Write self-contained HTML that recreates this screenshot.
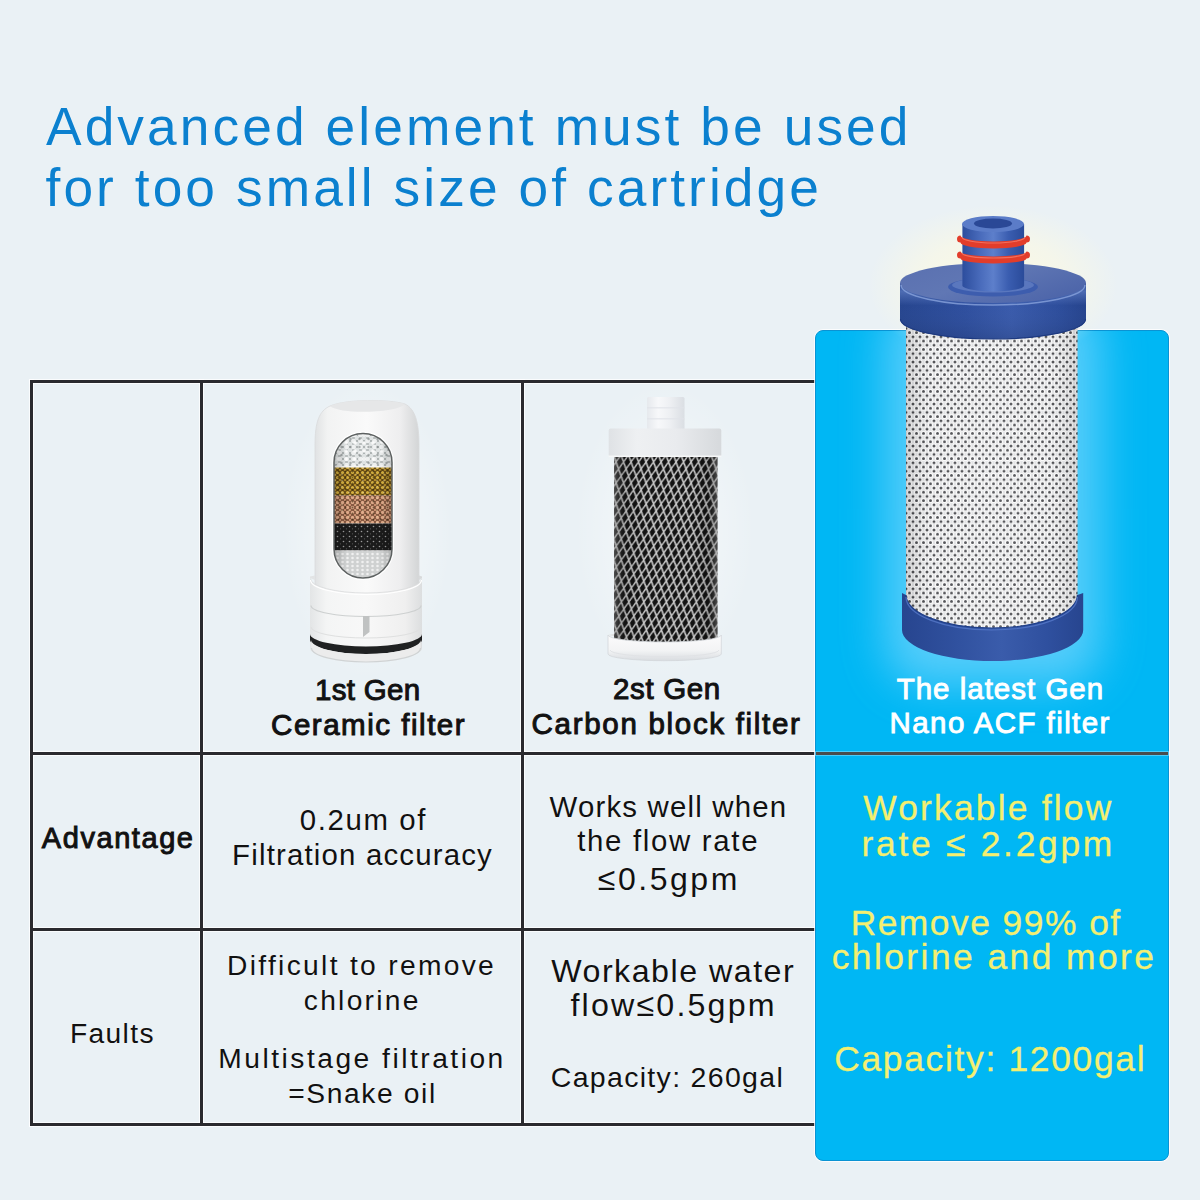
<!DOCTYPE html>
<html><head><meta charset="utf-8"><style>
html,body{margin:0;padding:0;}
body{width:1200px;height:1200px;position:relative;overflow:hidden;background:#eaf1f5;font-family:"Liberation Sans",sans-serif;}
.tx{position:absolute;white-space:pre;}
.hb{text-shadow:0 0 1px rgba(255,255,255,0.9);}
.ln{position:absolute;background:#2a2a2e;}
.lh{position:absolute;background:rgba(255,255,255,0.75);}
.abs{position:absolute;left:0;top:0;}
</style></head><body>
<div class="lh" style="left:29px;top:379px;width:787px;height:5px"></div>
<div class="lh" style="left:29px;top:751px;width:1140px;height:5px"></div>
<div class="lh" style="left:29px;top:927px;width:787px;height:5px"></div>
<div class="lh" style="left:29px;top:1122px;width:787px;height:5px"></div>
<div class="lh" style="left:29px;top:379px;width:5px;height:748px"></div>
<div class="lh" style="left:199px;top:379px;width:5px;height:748px"></div>
<div class="lh" style="left:520px;top:379px;width:5px;height:748px"></div>
<div class="ln" style="left:30px;top:380px;width:785px;height:3px"></div>
<div class="ln" style="left:30px;top:752px;width:1138px;height:3px"></div>
<div class="ln" style="left:30px;top:928px;width:785px;height:3px"></div>
<div class="ln" style="left:30px;top:1123px;width:785px;height:3px"></div>
<div class="ln" style="left:30px;top:380px;width:3px;height:746px"></div>
<div class="ln" style="left:200px;top:380px;width:3px;height:746px"></div>
<div class="ln" style="left:521px;top:380px;width:3px;height:746px"></div>
<div id="panel" style="position:absolute;left:815px;top:330px;width:354px;height:831px;border-radius:8px;background:#00b7f4;box-sizing:border-box;border:1px solid #0a93d3;overflow:hidden;box-shadow:0 0 0 1px rgba(255,255,255,0.8)">
</div>
<div class="ln" style="left:816px;top:752px;width:352px;height:3px;background:#4a4d4c;box-shadow:0 0 0 1px rgba(120,220,255,0.6)"></div>
<svg class="abs" width="1200" height="1200" viewBox="0 0 1200 1200">
<defs>
 <linearGradient id="g1body" x1="0" x2="1" y1="0" y2="0">
  <stop offset="0" stop-color="#e0e2e3"/>
  <stop offset="0.12" stop-color="#f2f3f3"/>
  <stop offset="0.5" stop-color="#fafafa"/>
  <stop offset="0.82" stop-color="#eeeeef"/>
  <stop offset="1" stop-color="#d3d5d6"/>
 </linearGradient>
 <linearGradient id="g1base" x1="0" x2="1" y1="0" y2="0">
  <stop offset="0" stop-color="#e3e5e6"/>
  <stop offset="0.15" stop-color="#f4f5f5"/>
  <stop offset="0.5" stop-color="#f8f8f8"/>
  <stop offset="0.85" stop-color="#efefef"/>
  <stop offset="1" stop-color="#dcdedf"/>
 </linearGradient>
 <radialGradient id="g1glow" cx="0.5" cy="0.5" r="0.5">
  <stop offset="0" stop-color="#ffffff" stop-opacity="0.7"/>
  <stop offset="1" stop-color="#ffffff" stop-opacity="0"/>
 </radialGradient>
 <pattern id="p1balls" width="7" height="6" patternUnits="userSpaceOnUse">
  <rect width="7" height="6" fill="#8f9696"/>
  <circle cx="3.5" cy="3" r="2.5" fill="#eef0f0"/>
  <circle cx="0" cy="0" r="2.5" fill="#dfe3e3"/>
  <circle cx="7" cy="0" r="2.5" fill="#dfe3e3"/>
  <circle cx="0" cy="6" r="2.5" fill="#dfe3e3"/>
  <circle cx="7" cy="6" r="2.5" fill="#dfe3e3"/>
 </pattern>
 <pattern id="p1balls2" width="9" height="8" patternUnits="userSpaceOnUse" x="2" y="1">
  <circle cx="2" cy="2" r="1.8" fill="#ffffff" opacity="0.8"/>
  <circle cx="6.5" cy="6" r="1.2" fill="#7d8484" opacity="0.6"/>
 </pattern>
 <pattern id="p1gold" width="5" height="5" patternUnits="userSpaceOnUse">
  <rect width="5" height="5" fill="#5e4512"/>
  <circle cx="2.5" cy="2.5" r="1.6" fill="#d6b040"/>
  <circle cx="0" cy="0" r="1.3" fill="#b48b28"/>
  <circle cx="5" cy="5" r="1.3" fill="#b48b28"/>
  <circle cx="5" cy="0" r="1.3" fill="#b48b28"/>
  <circle cx="0" cy="5" r="1.3" fill="#b48b28"/>
 </pattern>
 <pattern id="p1speck" width="7" height="6" patternUnits="userSpaceOnUse" x="1" y="2">
  <circle cx="1.5" cy="1.5" r="1" fill="#2a1e08" opacity="0.55"/>
  <circle cx="5" cy="4.5" r="0.9" fill="#fff3c0" opacity="0.35"/>
 </pattern>
 <pattern id="p1copper" width="5" height="5" patternUnits="userSpaceOnUse">
  <rect width="5" height="5" fill="#7a4f38"/>
  <circle cx="2.5" cy="2.5" r="1.7" fill="#e0aa8a"/>
  <circle cx="0" cy="0" r="1.3" fill="#c98f70"/>
  <circle cx="5" cy="5" r="1.3" fill="#c98f70"/>
  <circle cx="5" cy="0" r="1.3" fill="#c98f70"/>
  <circle cx="0" cy="5" r="1.3" fill="#c98f70"/>
 </pattern>
 <pattern id="p1black" width="6" height="5" patternUnits="userSpaceOnUse">
  <rect width="6" height="5" fill="#1b1b1b"/>
  <circle cx="1.5" cy="1.5" r="0.8" fill="#9a9a9a"/>
  <circle cx="4.5" cy="3.8" r="0.6" fill="#5a5a5a"/>
 </pattern>
 <pattern id="p1clear" width="5" height="4" patternUnits="userSpaceOnUse">
  <rect width="5" height="4" fill="#cfd1d1"/>
  <circle cx="2.5" cy="2" r="1.3" fill="#f0f0f0"/>
 </pattern>
 <linearGradient id="g1winshade" x1="0" x2="1" y1="0" y2="0">
  <stop offset="0" stop-color="#000" stop-opacity="0.25"/>
  <stop offset="0.25" stop-color="#000" stop-opacity="0"/>
  <stop offset="0.75" stop-color="#000" stop-opacity="0"/>
  <stop offset="1" stop-color="#000" stop-opacity="0.2"/>
 </linearGradient>
 <clipPath id="c1win"><rect x="334" y="433.5" width="58" height="144.5" rx="29" ry="29"/></clipPath>
</defs>
<ellipse cx="367" cy="530" rx="85" ry="150" fill="url(#g1glow)"/>
<!-- body -->
<path d="M315 600 V445 C315 422 319 411 330 406 C346 399 389 399 405 404 C415 409 419 422 419 445 V600 Z" fill="url(#g1body)" stroke="#d9dbdc" stroke-width="0.8"/>
<path d="M330 406 C346 399 389 399 405 404 C398 413 340 415 330 406 Z" fill="#e6e7e8"/>
<!-- window -->
<rect x="332" y="431.5" width="62" height="148.5" rx="31" ry="31" fill="#ffffff"/>
<g clip-path="url(#c1win)">
 <rect x="330" y="430" width="66" height="38" fill="url(#p1balls)"/>
 <rect x="330" y="430" width="66" height="38" fill="url(#p1balls2)"/>
 <rect x="330" y="467" width="66" height="28.5" fill="url(#p1gold)"/>
 <rect x="330" y="467" width="66" height="28.5" fill="url(#p1speck)"/>
 <rect x="330" y="495.5" width="66" height="28" fill="url(#p1copper)"/>
 <rect x="330" y="495.5" width="66" height="28" fill="url(#p1speck)"/>
 <rect x="330" y="523.5" width="66" height="27" fill="url(#p1black)"/>
 <rect x="330" y="550.5" width="66" height="30" fill="url(#p1clear)"/>
 <rect x="330" y="466" width="66" height="1.5" fill="#f4f4f4"/>
 <rect x="330" y="430" width="66" height="150" fill="url(#g1winshade)"/>
</g>
<rect x="334" y="433.5" width="58" height="144.5" rx="29" ry="29" fill="none" stroke="#5d6161" stroke-width="1.5"/>
<!-- base -->
<path d="M310 578 A56 15 0 0 0 422 578 L422 648 A56 14 0 0 1 310 648 Z" fill="url(#g1base)"/>
<path d="M310.5 578.5 A55.5 14.5 0 0 0 421.5 578.5" fill="none" stroke="#d9dbdc" stroke-width="0.8"/>
<path d="M310.5 580 A55.5 14.5 0 0 0 421.5 580" fill="none" stroke="#ffffff" stroke-width="1.2"/>
<path d="M310 578 L310 576.5 L315 575.5 L315 580" fill="#e2e4e5"/>
<path d="M422 578 L422 576.5 L419 575.5 L419 580" fill="#d8dadb"/>
<path d="M311 605.5 A55 11 0 0 0 421 605.5" fill="none" stroke="#cdd0d0" stroke-width="1.2"/>
<path d="M311 627 A55 11 0 0 0 421 627" fill="none" stroke="#dfe0e0" stroke-width="1"/>
<path d="M363 616 L369.5 616 L369.5 632 L363 637 Z" fill="#c0c2c2"/>
<path d="M310 634 A56 12.5 0 0 0 422 634 L422 639.5 A56 14.5 0 0 1 310 639.5 Z" fill="#202122"/>
<path d="M311 639.5 A55 14.5 0 0 0 421 639.5 L420.5 648 A54.5 14 0 0 1 311.5 648 Z" fill="#ececec"/>
<path d="M311.5 648 A54.5 14 0 0 0 420.5 648" fill="none" stroke="#d0d3d4" stroke-width="1.2"/>
</svg>

<svg class="abs" width="1200" height="1200" viewBox="0 0 1200 1200">
<defs>
 <linearGradient id="g2cap" x1="0" x2="1" y1="0" y2="0">
  <stop offset="0" stop-color="#dfe2e5"/>
  <stop offset="0.25" stop-color="#eef0f2"/>
  <stop offset="0.6" stop-color="#e9ebee"/>
  <stop offset="1" stop-color="#d6d9dc"/>
 </linearGradient>
 <linearGradient id="g2shade" x1="0" x2="1" y1="0" y2="0">
  <stop offset="0" stop-color="#999" stop-opacity="0.45"/>
  <stop offset="0.12" stop-color="#000" stop-opacity="0.1"/>
  <stop offset="0.3" stop-color="#000" stop-opacity="0"/>
  <stop offset="0.75" stop-color="#000" stop-opacity="0"/>
  <stop offset="0.9" stop-color="#000" stop-opacity="0.15"/>
  <stop offset="1" stop-color="#999" stop-opacity="0.45"/>
 </linearGradient>
 <radialGradient id="g2glow" cx="0.5" cy="0.5" r="0.5">
  <stop offset="0" stop-color="#ffffff" stop-opacity="0.6"/>
  <stop offset="1" stop-color="#ffffff" stop-opacity="0"/>
 </radialGradient>
 <pattern id="p2mesh" width="7.5" height="14" patternUnits="userSpaceOnUse" patternTransform="skewX(-10)">
  <rect width="7.5" height="14" fill="#131313"/>
  <path d="M0 0 L7.5 14 M7.5 0 L0 14" stroke="#c8c8c8" stroke-width="1.6" fill="none"/>
 </pattern>
</defs>
<ellipse cx="665" cy="530" rx="90" ry="150" fill="url(#g2glow)"/>
<linearGradient id="g2noz" x1="0" x2="1" y1="0" y2="0"><stop offset="0" stop-color="#e6e9ed"/><stop offset="0.3" stop-color="#f7f8fa"/><stop offset="0.6" stop-color="#eef0f3"/><stop offset="1" stop-color="#dadee3"/></linearGradient>
<rect x="647" y="397" width="37.5" height="33" rx="1.5" fill="url(#g2noz)"/>
<rect x="647" y="407" width="37.5" height="1.5" fill="#dfe3e8" opacity="0.7"/>
<rect x="647" y="418" width="37.5" height="1.5" fill="#dfe3e8" opacity="0.7"/>
<rect x="614" y="455" width="103.5" height="187" fill="url(#p2mesh)"/>
<rect x="614" y="455" width="103.5" height="187" fill="url(#g2shade)"/>
<rect x="608.7" y="428.5" width="112.6" height="28.5" rx="2" fill="url(#g2cap)"/>
<rect x="608.7" y="455.5" width="112.6" height="1.5" fill="#f6f7f8"/>
<linearGradient id="g2bot" x1="0" x2="0" y1="0" y2="1"><stop offset="0" stop-color="#fbfbfc"/><stop offset="0.6" stop-color="#f3f4f5"/><stop offset="1" stop-color="#d9dce0"/></linearGradient>
<path d="M608 635 A56.6 7 0 0 0 721.3 635 L721.3 654 A56.6 6.7 0 0 1 608 654 Z" fill="url(#g2bot)" stroke="#d3d7db" stroke-width="0.8"/>
<path d="M608 635 L614 634 L614 636 Z" fill="#ddd"/>
<path d="M610 650 A54 6.7 0 0 0 719 650" fill="none" stroke="#e1e3e6" stroke-width="1"/>
</svg>

<svg class="abs" width="1200" height="1200" viewBox="0 0 1200 1200">
<defs>
 <linearGradient id="g3side" x1="0" x2="1" y1="0" y2="0">
  <stop offset="0" stop-color="#27458f"/>
  <stop offset="0.3" stop-color="#30519f"/>
  <stop offset="0.55" stop-color="#3a5cab"/>
  <stop offset="0.8" stop-color="#2f509f"/>
  <stop offset="1" stop-color="#27458f"/>
 </linearGradient>
 <linearGradient id="g3cap" x1="0" x2="1" y1="0" y2="0">
  <stop offset="0" stop-color="#27468f"/>
  <stop offset="0.35" stop-color="#2f4f9e"/>
  <stop offset="0.6" stop-color="#3a5bab"/>
  <stop offset="0.85" stop-color="#2e4e9c"/>
  <stop offset="1" stop-color="#26448d"/>
 </linearGradient>
 <linearGradient id="g3capv" x1="0" x2="0" y1="0" y2="1">
  <stop offset="0" stop-color="#6d8bd0" stop-opacity="0.0"/>
  <stop offset="0.15" stop-color="#6d8bd0" stop-opacity="0.55"/>
  <stop offset="0.4" stop-color="#6d8bd0" stop-opacity="0.0"/>
  <stop offset="1" stop-color="#000" stop-opacity="0.1"/>
 </linearGradient>
 <linearGradient id="g3top" x1="0" x2="1" y1="0" y2="0.6">
  <stop offset="0" stop-color="#5a70b0"/>
  <stop offset="0.5" stop-color="#6077b4"/>
  <stop offset="1" stop-color="#4e66aa"/>
 </linearGradient>
 <linearGradient id="g3noz" x1="0" x2="1" y1="0" y2="0">
  <stop offset="0" stop-color="#2c4d9d"/>
  <stop offset="0.3" stop-color="#4a6cbc"/>
  <stop offset="0.5" stop-color="#5d7fcb"/>
  <stop offset="0.75" stop-color="#3a5db0"/>
  <stop offset="1" stop-color="#2a4b9a"/>
 </linearGradient>
 <linearGradient id="g3shade" x1="0" x2="1" y1="0" y2="0">
  <stop offset="0" stop-color="#000" stop-opacity="0.12"/>
  <stop offset="0.15" stop-color="#fff" stop-opacity="0.05"/>
  <stop offset="0.5" stop-color="#fff" stop-opacity="0.12"/>
  <stop offset="0.85" stop-color="#fff" stop-opacity="0.05"/>
  <stop offset="1" stop-color="#000" stop-opacity="0.1"/>
 </linearGradient>
 <radialGradient id="g3glowtop" cx="0.5" cy="0.5" r="0.5">
  <stop offset="0" stop-color="#fffbe0" stop-opacity="0.9"/>
  <stop offset="0.6" stop-color="#fffbe0" stop-opacity="0.5"/>
  <stop offset="1" stop-color="#fffbe0" stop-opacity="0"/>
 </radialGradient>
 <filter id="blur3" x="-50%" y="-50%" width="200%" height="200%"><feGaussianBlur stdDeviation="22"/></filter>
 <filter id="blur3b" x="-50%" y="-50%" width="200%" height="200%"><feGaussianBlur stdDeviation="10"/></filter>
 <pattern id="p3dots" width="7" height="8.4" patternUnits="userSpaceOnUse" x="906" y="320">
  <rect width="7" height="8.4" fill="#dfe0e2"/>
  <circle cx="0" cy="0" r="2.6" fill="#fbfbfb"/>
  <circle cx="7" cy="0" r="2.6" fill="#fbfbfb"/>
  <circle cx="3.5" cy="4.2" r="2.6" fill="#fbfbfb"/>
  <circle cx="0" cy="8.4" r="2.6" fill="#fbfbfb"/>
  <circle cx="7" cy="8.4" r="2.6" fill="#fbfbfb"/>
  <circle cx="0" cy="0" r="1.5" fill="#48494d"/>
  <circle cx="7" cy="0" r="1.5" fill="#48494d"/>
  <circle cx="3.5" cy="4.2" r="1.5" fill="#48494d"/>
  <circle cx="0" cy="8.4" r="1.5" fill="#48494d"/>
  <circle cx="7" cy="8.4" r="1.5" fill="#48494d"/>
 </pattern>
 <clipPath id="c3panel"><rect x="816" y="331" width="352" height="829" rx="8"/></clipPath>
</defs>
<ellipse cx="993" cy="285" rx="125" ry="80" fill="url(#g3glowtop)"/>
<g clip-path="url(#c3panel)">
 <rect x="885" y="300" width="216" height="385" rx="40" fill="#8fdcff" opacity="0.6" filter="url(#blur3)"/>
</g>
<rect x="906" y="320" width="171.5" height="310" fill="url(#p3dots)"/>
<rect x="906" y="320" width="171.5" height="310" fill="url(#g3shade)"/>
<path d="M902 593 L902 630 A90.6 31 0 0 0 1083.2 630 L1083.2 593 L1077.4 595 A85.7 33 0 0 1 906 595 Z" fill="url(#g3side)"/>
<path d="M1077.4 595 A85.7 33 0 0 1 906 595" fill="none" stroke="#1f3f8a" stroke-width="1.2"/>
<path d="M1077.4 597 A85.7 33 0 0 1 906 597" fill="none" stroke="#5b7fd0" stroke-width="1.2" opacity="0.7"/>
<path d="M900 283 L900 319 A93 20 0 0 0 1086 319 L1086 283 Z" fill="url(#g3cap)"/>
<path d="M900 283 L900 319 A93 20 0 0 0 1086 319 L1086 283 Z" fill="url(#g3capv)"/>
<path d="M900.5 319 A92.5 20 0 0 0 1085.5 319" fill="none" stroke="#1e3a80" stroke-width="1.2"/>

<ellipse cx="993" cy="283" rx="93" ry="20" fill="url(#g3top)"/>
<path d="M901 285 A92 20 0 0 0 1085 285" fill="none" stroke="#88a2dc" stroke-width="1.5" opacity="0.8"/>
<ellipse cx="993" cy="287" rx="45" ry="9.5" fill="#3d5dae"/>
<ellipse cx="993" cy="285" rx="41" ry="7.5" fill="#5a77be"/>
<path d="M962.4 224 L962.4 286 A31 6 0 0 0 1024.1 286 L1024.1 224 Z" fill="url(#g3noz)"/>
<ellipse cx="993" cy="224" rx="31" ry="8" fill="#5b7cc8"/>
<ellipse cx="993" cy="223.5" rx="19" ry="5" fill="#2a4896"/>
<path d="M960.5 235.5 A33 6 0 0 0 1026.5 235.5 A3.5 3.5 0 0 1 1026.5 242.5 A33 6 0 0 1 960.5 242.5 A3.5 3.5 0 0 1 960.5 235.5 Z" fill="#e23d2b"/>
<path d="M962 237.0 A31.5 6 0 0 0 1025 237.0" fill="none" stroke="#f77b68" stroke-width="1.2" opacity="0.8"/>
<path d="M960.5 251.5 A33 5 0 0 0 1026.5 251.5 A3.5 3.5 0 0 1 1026.5 258.5 A33 5 0 0 1 960.5 258.5 A3.5 3.5 0 0 1 960.5 251.5 Z" fill="#e23d2b"/>
<path d="M962 253.0 A31.5 5 0 0 0 1025 253.0" fill="none" stroke="#f77b68" stroke-width="1.2" opacity="0.8"/>
</svg>

<div class="tx hb" style="left:46.0px;top:99.7px;font-size:53.3px;line-height:53.3px;letter-spacing:3.08px;font-weight:400;color:#0b80cf">Advanced element must be used</div>
<div class="tx hb" style="left:45.5px;top:161.4px;font-size:53.3px;line-height:53.3px;letter-spacing:3.07px;font-weight:400;color:#0b80cf">for too small size of cartridge</div>
<div class="tx hb" style="left:315.0px;top:675.2px;font-size:29.5px;line-height:29.5px;letter-spacing:0.30px;font-weight:400;color:#111111;-webkit-text-stroke:1.00px #111111">1st Gen</div>
<div class="tx hb" style="left:271.1px;top:709.9px;font-size:29.5px;line-height:29.5px;letter-spacing:1.52px;font-weight:400;color:#111111;-webkit-text-stroke:1.00px #111111">Ceramic filter</div>
<div class="tx hb" style="left:612.9px;top:673.7px;font-size:29.5px;line-height:29.5px;letter-spacing:0.68px;font-weight:400;color:#111111;-webkit-text-stroke:1.00px #111111">2st Gen</div>
<div class="tx hb" style="left:531.6px;top:708.7px;font-size:29.5px;line-height:29.5px;letter-spacing:1.70px;font-weight:400;color:#111111;-webkit-text-stroke:1.00px #111111">Carbon block filter</div>
<div class="tx" style="left:896.7px;top:673.5px;font-size:29.5px;line-height:29.5px;letter-spacing:1.00px;font-weight:400;color:#ffffff;-webkit-text-stroke:0.89px #ffffff">The latest Gen</div>
<div class="tx" style="left:889.6px;top:708.2px;font-size:29.5px;line-height:29.5px;letter-spacing:1.41px;font-weight:400;color:#ffffff;-webkit-text-stroke:0.89px #ffffff">Nano ACF filter</div>
<div class="tx hb" style="left:41.8px;top:823.6px;font-size:29px;line-height:29px;letter-spacing:1.56px;font-weight:400;color:#111111;-webkit-text-stroke:0.99px #111111">Advantage</div>
<div class="tx hb" style="left:299.8px;top:805.0px;font-size:29.4px;line-height:29.4px;letter-spacing:1.60px;font-weight:400;color:#111111">0.2um of</div>
<div class="tx hb" style="left:232.1px;top:840.0px;font-size:29.4px;line-height:29.4px;letter-spacing:1.18px;font-weight:400;color:#111111">Filtration accuracy</div>
<div class="tx hb" style="left:549.5px;top:791.9px;font-size:29.4px;line-height:29.4px;letter-spacing:1.19px;font-weight:400;color:#111111">Works well when</div>
<div class="tx hb" style="left:577.2px;top:826.2px;font-size:29.4px;line-height:29.4px;letter-spacing:1.69px;font-weight:400;color:#111111">the flow rate</div>
<div class="tx hb" style="left:597.8px;top:862.5px;font-size:32px;line-height:32px;letter-spacing:2.54px;font-weight:400;color:#111111">≤0.5gpm</div>
<div class="tx hb" style="left:69.9px;top:1018.7px;font-size:28.2px;line-height:28.2px;letter-spacing:1.38px;font-weight:400;color:#111111">Faults</div>
<div class="tx hb" style="left:227.1px;top:951.3px;font-size:28.2px;line-height:28.2px;letter-spacing:2.31px;font-weight:400;color:#111111">Difficult to remove</div>
<div class="tx hb" style="left:303.8px;top:985.8px;font-size:28.2px;line-height:28.2px;letter-spacing:2.27px;font-weight:400;color:#111111">chlorine</div>
<div class="tx hb" style="left:218.3px;top:1044.4px;font-size:28.2px;line-height:28.2px;letter-spacing:2.50px;font-weight:400;color:#111111">Multistage filtration</div>
<div class="tx hb" style="left:288.2px;top:1078.9px;font-size:28.2px;line-height:28.2px;letter-spacing:1.62px;font-weight:400;color:#111111">=Snake oil</div>
<div class="tx hb" style="left:551.2px;top:954.9px;font-size:32.2px;line-height:32.2px;letter-spacing:1.50px;font-weight:400;color:#111111">Workable water</div>
<div class="tx hb" style="left:570.5px;top:988.8px;font-size:32.2px;line-height:32.2px;letter-spacing:2.18px;font-weight:400;color:#111111">flow≤0.5gpm</div>
<div class="tx hb" style="left:550.8px;top:1063.1px;font-size:28.5px;line-height:28.5px;letter-spacing:1.31px;font-weight:400;color:#111111">Capacity: 260gal</div>
<div class="tx" style="left:863.2px;top:790.8px;font-size:35.4px;line-height:35.4px;letter-spacing:2.21px;font-weight:400;color:#f4ef70;-webkit-text-stroke:0.28px #f4ef70">Workable flow</div>
<div class="tx" style="left:861.6px;top:827.1px;font-size:35.4px;line-height:35.4px;letter-spacing:2.72px;font-weight:400;color:#f4ef70;-webkit-text-stroke:0.28px #f4ef70">rate ≤ 2.2gpm</div>
<div class="tx" style="left:850.7px;top:905.5px;font-size:35.4px;line-height:35.4px;letter-spacing:1.47px;font-weight:400;color:#f4ef70;-webkit-text-stroke:0.28px #f4ef70">Remove 99% of</div>
<div class="tx" style="left:831.7px;top:939.5px;font-size:35.4px;line-height:35.4px;letter-spacing:2.44px;font-weight:400;color:#f4ef70;-webkit-text-stroke:0.28px #f4ef70">chlorine and more</div>
<div class="tx" style="left:834.2px;top:1041.5px;font-size:35.4px;line-height:35.4px;letter-spacing:1.69px;font-weight:400;color:#f4ef70;-webkit-text-stroke:0.28px #f4ef70">Capacity: 1200gal</div>
</body></html>
